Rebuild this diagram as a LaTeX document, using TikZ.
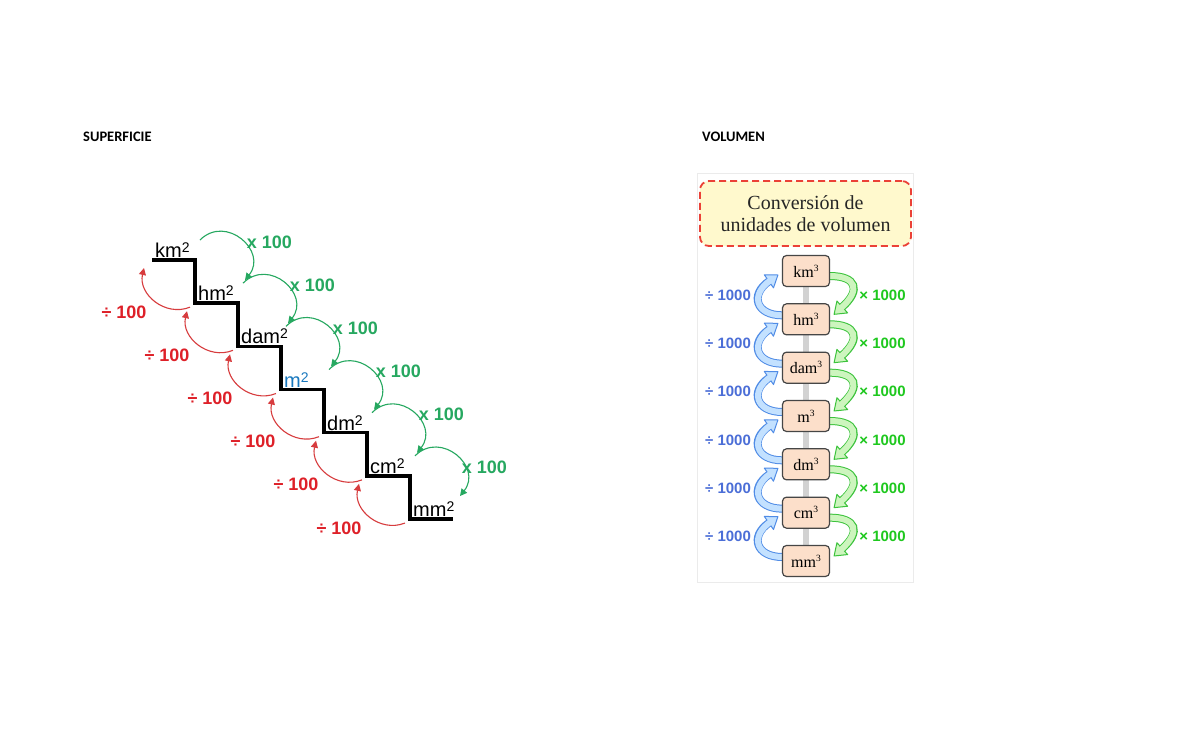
\documentclass[tikz,border=0pt]{standalone}
\usepackage{fontspec}
\setmainfont{Liberation Serif}
\setsansfont{Liberation Sans}
\newfontfamily\calibri{Carlito}
\usepackage{xcolor}
\definecolor{stgreen}{RGB}{38,168,96}
\definecolor{stred}{RGB}{222,32,40}
\definecolor{arcred}{RGB}{215,60,62}
\definecolor{unitblue}{RGB}{25,120,190}
\definecolor{dvblue}{RGB}{75,110,215}
\definecolor{bandblue}{RGB}{80,140,230}
\definecolor{fillblue}{RGB}{195,225,255}
\definecolor{mvgreen}{RGB}{30,200,30}
\definecolor{bandgreen}{RGB}{60,195,60}
\definecolor{fillgreen}{RGB}{205,245,190}
\definecolor{boxfill}{RGB}{252,223,202}
\definecolor{boxedge}{RGB}{70,70,70}
\definecolor{titlefill}{RGB}{255,249,205}
\definecolor{titleedge}{RGB}{235,65,55}
\definecolor{barg}{RGB}{210,210,210}
\usepackage{tikz}
\usetikzlibrary{positioning,calc,arrows.meta,backgrounds}
\newcommand{\upnum}[3]{\raisebox{#1pt}{\fontsize{#2}{#2}\selectfont #3}}

\tikzset{
  heading/.style={font=\fontsize{14.5}{14.5}\selectfont\calibri\bfseries, anchor=west, inner sep=0pt},
  stair/.style={line width=3.5pt, black},
  stairlbl/.style={font=\fontsize{20}{20}\selectfont\sffamily, anchor=south west, inner xsep=3pt, inner ysep=2pt},
  mulstair/.style={stgreen, line width=1.1pt, -{Triangle[length=7pt,width=7pt]}},
  divstair/.style={arcred, line width=1.1pt, -{Triangle[length=7pt,width=7pt]}},
  mullbl/.style={font=\fontsize{18}{18}\selectfont\sffamily\bfseries, text=stgreen},
  divlbl/.style={font=\fontsize{18}{18}\selectfont\sffamily\bfseries, text=stred},
  unitbox/.style={draw=boxedge, fill=boxfill, rounded corners=4pt, line width=1.2pt,
    minimum width=47pt, minimum height=31pt, inner sep=0pt, font=\fontsize{16}{16}\selectfont},
  titlebox/.style={draw=titleedge, fill=titlefill, line width=1.8pt, dash pattern=on 7pt off 4pt,
    rounded corners=9pt, minimum width=211pt, minimum height=65pt, align=center,
    text=black!85, font=\fontsize{20}{22}\selectfont},
  bandout/.style={line width=8pt, #1},
  bandin/.style={line width=6pt, #1, shorten >=-2pt},
  headfill/.style={fill=#1, line width=1pt, line join=round},
  vdivlbl/.style={font=\fontsize{15}{15}\selectfont\sffamily\bfseries, text=dvblue},
  vmullbl/.style={font=\fontsize{15}{15}\selectfont\sffamily\bfseries, text=mvgreen},
  panel/.style={draw=black!8, line width=0.8pt},
}

\begin{document}
\begin{tikzpicture}[x=1pt,y=1pt]
\useasboundingbox (0,0) rectangle (1200,-729);
\begin{scope}[on background layer]
  \fill[white] (0,0) rectangle (1200,-729);
\end{scope}

\node[heading] (sup) at (83,-137) {SUPERFICIE};
\node[heading] (vol) at (702,-137) {VOLUMEN};

% escalera de superficie
\foreach \nm [count=\i] in {km,hm,dam,m,dm,cm,mm}
  \coordinate (s\nm) at ({152+43*(\i-1)},{-260-43.17*(\i-1)});

\node[stairlbl] (km) at (skm) {km\upnum{5}{14}{2}};
\node[stairlbl] (hm) at (shm) {hm\upnum{5}{14}{2}};
\node[stairlbl] (dam) at (sdam) {dam\upnum{5}{14}{2}};
\node[stairlbl, text=unitblue] (m) at (sm) {m\upnum{5}{14}{2}};
\node[stairlbl] (dm) at (sdm) {dm\upnum{5}{14}{2}};
\node[stairlbl] (cm) at (scm) {cm\upnum{5}{14}{2}};
\node[stairlbl] (mm) at (smm) {mm\upnum{5}{14}{2}};

\draw[stair] (km.south west) -| (hm.south west) -| (dam.south west) -| (m.south west)
  -| (dm.south west) -| (cm.south west) -| (mm.south west) -- ++(43,0);

\foreach \a/\b/\dy in {km/hm/18,hm/dam/18,dam/m/18,m/dm/18,dm/cm/18,cm/mm/9}{
  \draw[mulstair] ($(s\a)+(48,20)$) .. controls +(26,26) and +(23,29) .. ($(s\b)+(50,23)$);
  \node[mullbl] (mul\a) at ($(s\a)+(117.5,\dy)$) {x 100};
  \draw[divstair] ($(s\b)+(-5,-4)$) .. controls +(-25,-10) and +(-6,-26) .. ($(s\a)+(-8,-8)$);
  \node[divlbl] (div\a) at ($(s\a)+(-28,-52)$) {÷ 100};
}

% volumen
\draw[panel] (697,-173) rectangle (913,-582);
\node[titlebox] (title) at (805.5,-213.5) {Conversión de\\unidades de volumen};

\foreach \nm [count=\i] in {km,hm,dam,m,dm,cm,mm}
  \node[unitbox] (\nm3) at (806,{-271-48.33*(\i-1)}) {\nm\upnum{6}{9.5}{3}};

\begin{scope}[on background layer]
  \draw[line width=6pt, barg] (km3) -- (mm3);
  \foreach \a/\b in {km/hm,hm/dam,dam/m,m/dm,dm/cm,cm/mm}{
    % hacia arriba
    \path ([shift={(-4,-4)}]\a3.west) coordinate (bt);
    \draw[bandout=bandblue] ([shift={(0.5,4)}]\b3.west) .. controls +(-27,0) and +(-19,-13) .. ($(bt)+(-9,-6.3)$);
    \filldraw[headfill=fillblue, draw=bandblue] (bt) -- +(179:13.6) -- +(251:13.6) -- cycle;
    \draw[bandin=fillblue] ([shift={(0.5,4)}]\b3.west) .. controls +(-27,0) and +(-19,-13) .. ($(bt)+(-9,-6.3)$);
    % hacia abajo
    \path ([shift={(4,5)}]\b3.east) coordinate (gt);
    \draw[bandout=bandgreen] ([shift={(-0.5,-5)}]\a3.east) .. controls +(27,0) and +(19,17) .. ($(gt)+(8.2,7.4)$);
    \filldraw[headfill=fillgreen, draw=bandgreen] (gt) -- +(6:13.6) -- +(78:13.6) -- cycle;
    \draw[bandin=fillgreen] ([shift={(-0.5,-5)}]\a3.east) .. controls +(27,0) and +(19,17) .. ($(gt)+(8.2,7.4)$);
  }
\end{scope}

\foreach \a/\b in {km/hm,hm/dam,dam/m,m/dm,dm/cm,cm/mm}{
  \node[vdivlbl] (vdiv\a) at ($(\a3)!.5!(\b3)+(-78,0)$) {÷ 1000};
  \node[vmullbl] (vmul\a) at ($(\a3)!.5!(\b3)+(76.5,0)$) {× 1000};
}
\end{tikzpicture}
\end{document}
